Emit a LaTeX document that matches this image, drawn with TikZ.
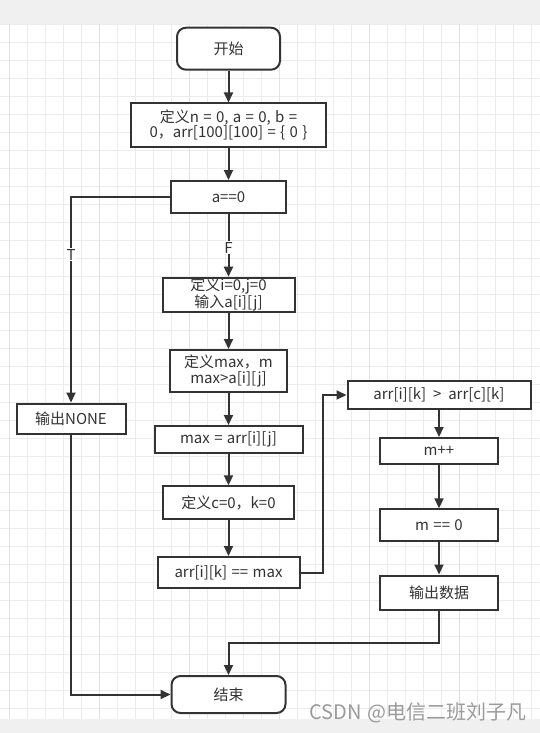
\documentclass[tikz,border=0pt]{standalone}
\usepackage{fontspec}
\setmainfont{Noto Sans CJK SC}[WordSpace=1.3]
\usetikzlibrary{arrows.meta}
\definecolor{ink}{HTML}{333333}
\definecolor{strip}{HTML}{F0F0F0}
\definecolor{gridc}{HTML}{ECECEC}
\definecolor{gridm}{HTML}{E2E2E2}
\definecolor{markc}{HTML}{9A9A9A}

\begin{document}
\begin{tikzpicture}[x=1pt,y=-1pt]
\tikzstyle{box}=[draw=ink,line width=2pt,fill=white,text=ink,font=\fontsize{15}{15.5}\selectfont,inner sep=0pt,align=center];
\tikzstyle{term}=[box,rounded corners=9pt];
\tikzstyle{flow}=[draw=ink,line width=2pt,-{Triangle[length=10pt,width=9pt]}];
\tikzstyle{tag}=[fill=white,text=ink,inner sep=1pt,font=\fontsize{15}{15}\selectfont];
\tikzstyle{gridline}=[draw=gridc,line width=1pt];
\useasboundingbox (0,0) rectangle (540,733);
\fill [white] (0,0) rectangle (540,733);
\foreach \i in {0,...,29} \draw [gridline] (9.5+18*\i,24) -- (9.5+18*\i,719);
\foreach \j in {0,...,38} \draw [gridline] (0,24.5+18*\j) -- (540,24.5+18*\j);
\foreach \i in {0,...,5} \draw [gridline,draw=gridm] (9.5+90*\i,24) -- (9.5+90*\i,719);
\fill [strip] (0,0) rectangle (540,24);
\fill [strip] (0,719) rectangle (540,733);

\node [term,minimum width=103pt,minimum height=42pt] (start) at (228.5,48.7) {开始};
\node [box,minimum width=195pt,minimum height=43pt] (init) at (228.5,125) {定义n = 0, a = 0, b =\\0，arr[100][100] = \{ 0 \}};
\node [box,minimum width=115pt,minimum height=32pt] (cza) at (228.5,197) {a==0};
\node [box,minimum width=132pt,minimum height=34pt] (defij) at (228.5,294.7) {定义i=0,j=0\\输入a[i][j]};
\node [box,minimum width=117pt,minimum height=42pt] (defmax) at (228.5,371) {定义max，m\\max>a[i][j]};
\node [box,minimum width=109pt,minimum height=30pt] (none) at (71,418.5) {输出NONE};
\node [box,minimum width=148pt,minimum height=27pt] (setmax) at (228.5,439.5) {max = arr[i][j]};
\node [box,minimum width=131pt,minimum height=33pt] (defck) at (228.5,502.8) {定义c=0，k=0};
\node [box,minimum width=142pt,minimum height=31pt] (cmpmax) at (228.5,572.5) {arr[i][k] == max};
\node [box,minimum width=183pt,minimum height=28pt] (cmpc) at (439,395) {arr[i][k] \,>\, arr[c][k]};
\node [box,minimum width=118pt,minimum height=26pt] (minc) at (439,451) {m++};
\node [box,minimum width=118pt,minimum height=32pt] (mzero) at (439,525.3) {m == 0};
\node [box,minimum width=118pt,minimum height=34pt] (out) at (439,592.5) {输出数据};
\node [term,minimum width=114pt,minimum height=37pt] (stop) at (228.5,694.5) {结束};
\node [text=markc,font=\fontsize{20}{22}\selectfont,inner sep=0pt] (mark) at (418,713) {CSDN @电信二班刘子凡};

\draw [flow] (start) -- (init);
\draw [flow] (init) -- (cza);
\draw [flow] (cza.west) -| node [tag,pos=0.64] {T} (none.north);
\draw [flow] (cza) -- node [tag,pos=0.54] {F} (defij);
\draw [flow] (defij) -- (defmax);
\draw [flow] (defmax) -- (setmax);
\draw [flow] (setmax) -- (defck);
\draw [flow] (defck) -- (cmpmax);
\draw [flow] (cmpmax.east) -- ++(22,0) |- (cmpc.west);
\draw [flow] (cmpc) -- (minc);
\draw [flow] (minc) -- (mzero);
\draw [flow] (mzero) -- (out);
\draw [flow] (out.south) -- ++(0,32) -| (stop.north);
\draw [flow] (none.south) |- (stop.west);
\end{tikzpicture}
\end{document}
